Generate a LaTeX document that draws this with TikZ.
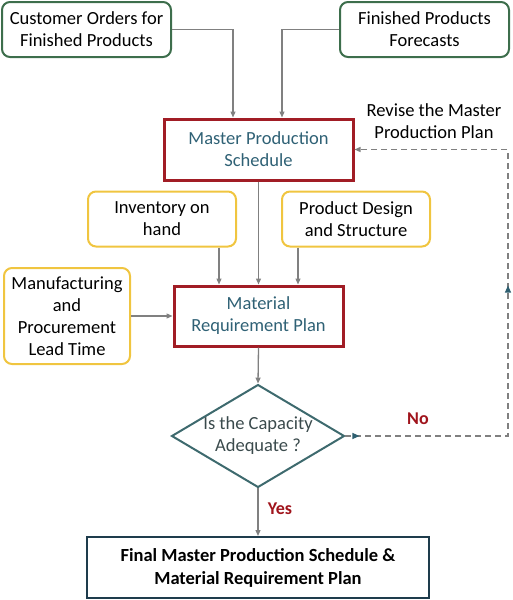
\documentclass[tikz,border=0pt]{standalone}
\usepackage{fontspec}
\setmainfont{Carlito}
\usetikzlibrary{shapes.geometric,arrows.meta,decorations.markings}
\definecolor{gborder}{HTML}{3D6E4C}
\definecolor{yborder}{HTML}{F0C540}
\definecolor{rborder}{HTML}{A11D25}
\definecolor{tealtxt}{HTML}{2F6175}
\definecolor{dborder}{HTML}{3E6A6E}
\definecolor{nborder}{HTML}{1E3C4C}
\definecolor{conn}{HTML}{808080}
\definecolor{redlbl}{HTML}{A0141C}
\definecolor{markc}{HTML}{2E5F70}
\definecolor{diatxt}{HTML}{3A4A4C}
\tikzset{
  base/.style={align=center,inner sep=0pt,font=\fontsize{18.5}{22}\selectfont},
  gbox/.style={base,draw=gborder,line width=2pt,rounded corners=8pt},
  ybox/.style={base,draw=yborder,line width=2pt,rounded corners=8pt},
  rbox/.style={base,draw=rborder,line width=3pt,text=tealtxt},
  fbox/.style={base,draw=nborder,line width=2pt,font=\bfseries\fontsize{18.5}{23}\selectfont},
  dia/.style={base,draw=dborder,line width=2pt,diamond,text=diatxt},
  conn/.style={draw=conn,line width=1.3pt,-{Triangle[length=6pt,width=5pt]}},
  lbl/.style={font=\bfseries\fontsize{18}{20}\selectfont,text=redlbl},
}
\begin{document}
\begin{tikzpicture}[x=1pt,y=-1pt]
\useasboundingbox (0,0) rectangle (512,600);
\node[gbox,minimum width=169pt,minimum height=55pt] (cust) at (86.5,29.5) {Customer Orders for\\Finished Products};
\node[gbox,minimum width=169pt,minimum height=55pt] (fore) at (424.5,29.5) {Finished Products\\Forecasts};
\node[rbox,minimum width=189pt,minimum height=61pt] (mps) at (258.5,149.5) {Master Production\\Schedule};
\node[base] (rev) at (434,121) {Revise the Master\\Production Plan};
\node[ybox,minimum width=148pt,minimum height=55pt] (inv) at (162,219) {Inventory on\\hand};
\node[ybox,minimum width=148pt,minimum height=55pt] (pd) at (356,219) {Product Design\\and Structure};
\node[ybox,minimum width=126pt,minimum height=96pt] (man) at (67,316) {Manufacturing\\and\\Procurement\\Lead Time};
\node[rbox,minimum width=169pt,minimum height=60pt] (mrp) at (258.5,316) {Material\\Requirement Plan};
\node[dia,minimum width=168pt,minimum height=100pt,aspect=1.68] (cap) at (258,436) {Is the Capacity\\Adequate ?};
\node[fbox,minimum width=342pt,minimum height=61pt] (fin) at (258,567.5) {Final Master Production Schedule \&\\Material Requirement Plan};
\node[lbl] (no) at (418,419) {No};
\node[lbl] (yes) at (280,509) {Yes};
\coordinate (c1) at (233,29.5);
\coordinate (c2) at (282,29.5);
\draw[conn] (cust.east) -- (c1) -- (c1 |- mps.north);
\draw[conn] (fore.west) -- (c2) -- (c2 |- mps.north);
\draw[conn] (mps.south) -- (mrp.north);
\draw[conn] (inv.south -| 219,0) -- (219,0 |- mrp.north);
\draw[conn] (pd.south -| 298,0) -- (298,0 |- mrp.north);
\draw[conn] (man.east) -- (mrp.west);
\draw[conn] (mrp.south) -- (cap.north);
\draw[conn] (cap.south) -- (fin.north);
\coordinate (rc) at (508,436);
\draw[conn,dashed,dash pattern=on 6pt off 4pt,
  postaction={decorate},
  decoration={markings,
    mark=at position 14pt with {\arrow[markc,solid]{Triangle[length=7pt,width=6pt]}},
    mark=at position 313pt with {\arrow[markc,solid]{Triangle[length=7pt,width=6pt]}}}]
  (cap.east) -- (rc) |- (mps.east);
\end{tikzpicture}
\end{document}
